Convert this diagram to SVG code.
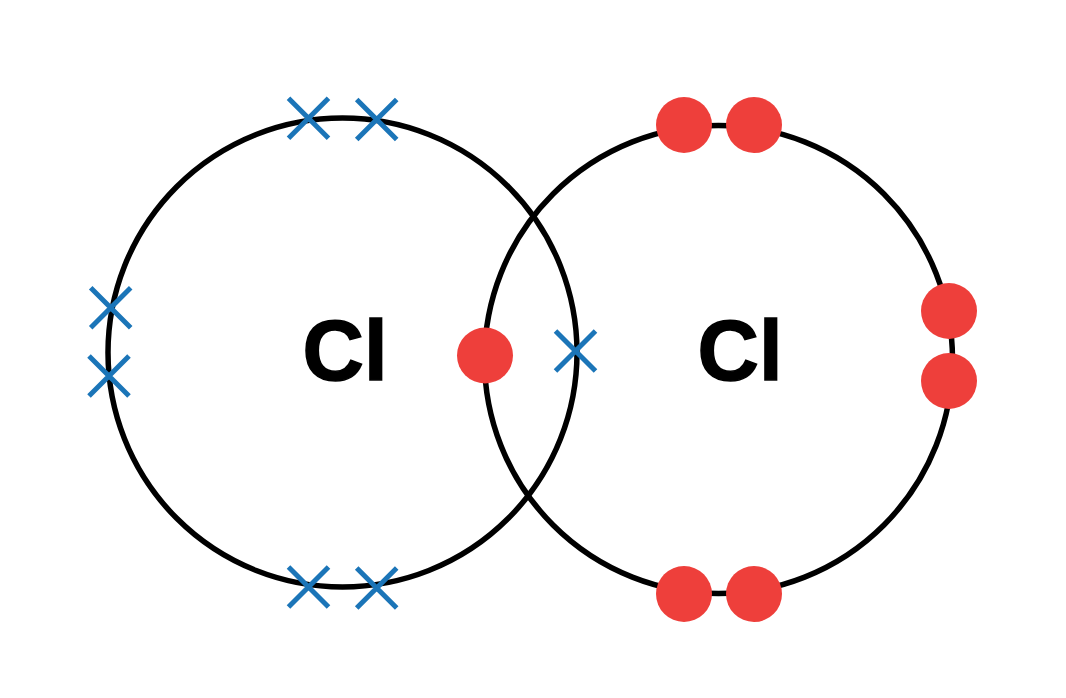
<svg xmlns="http://www.w3.org/2000/svg" width="1066" height="698" viewBox="0 0 1066 698">
<style>
.shell{fill:none;stroke:#000;stroke-width:5.500}
.dot{fill:#EE3F3B}
.x{fill:none;stroke:#1B75B8;stroke-width:5;stroke-linecap:butt}
.lbl{font-family:"Liberation Sans",Arial,sans-serif;font-weight:bold;font-size:85px;fill:#000;stroke:#000;stroke-width:1.500}
</style>
<defs>
<path id="cross" class="x" d="M-20-20L20 20M-20 20L20-20"/>
<circle id="electron" class="dot" r="28"/>
</defs>
<rect width="1066" height="698" fill="#fff"/>
<g id="atom-left">
<circle class="shell" cx="342.500" cy="352.500" r="234.500"/>
<text class="lbl" x="302.500" y="380">Cl</text>
</g>
<g id="atom-right">
<circle class="shell" cx="718.500" cy="359.500" r="234"/>
<text class="lbl" x="697.500" y="380">Cl</text>
</g>
<g id="crosses">
<use href="#cross" x="308.500" y="118.300"/>
<use href="#cross" x="376.700" y="119.500"/>
<use href="#cross" x="110.700" y="307.700"/>
<use href="#cross" x="109" y="376"/>
<use href="#cross" x="575.500" y="351"/>
<use href="#cross" x="308.500" y="587"/>
<use href="#cross" x="376.700" y="588"/>
</g>
<g id="dots">
<use href="#electron" x="684" y="125"/>
<use href="#electron" x="754" y="125"/>
<use href="#electron" x="949" y="311"/>
<use href="#electron" x="949" y="381"/>
<use href="#electron" x="485" y="355.500"/>
<use href="#electron" x="684" y="594"/>
<use href="#electron" x="754" y="594"/>
</g>
</svg>
